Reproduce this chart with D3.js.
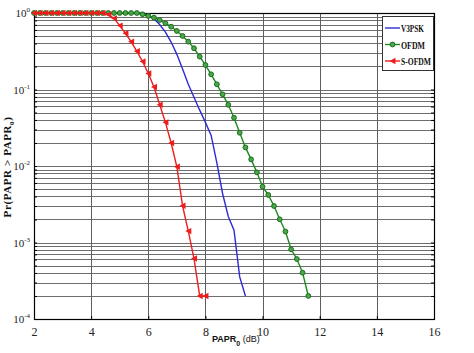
<!DOCTYPE html>
<html>
<head>
<meta charset="utf-8">
<script src="https://cdn.jsdelivr.net/npm/d3@7"></script>
<style>
  body { margin: 0; background: #fff; }
  svg { display: block; }
</style>
</head>
<body>
<svg id="chart" width="474" height="353"></svg>
<script>
// PAPR0 grid (dB), shared by all series
const papr = [2.0, 2.2, 2.4, 2.6, 2.8, 3.0, 3.2, 3.4, 3.6, 3.8, 4.0, 4.2, 4.4, 4.6, 4.8,
    5.0, 5.2, 5.4, 5.6, 5.8, 6.0, 6.2, 6.4, 6.6, 6.8, 7.0, 7.2, 7.4, 7.6, 7.8, 8.0,
    8.2, 8.4, 8.6, 8.8, 9.0, 9.2, 9.4, 9.6, 9.8, 10.0, 10.2, 10.4, 10.6, 10.8, 11.0,
    11.2, 11.4, 11.6];

// CCDF values, index i belongs to papr[i]
const v3psk = [1, 1, 1, 1, 1, 1, 1, 1, 1, 1, 1, 1, 1, 1, 1, 1, 1, 1, 1, 1,
    0.933, 0.832, 0.708, 0.562, 0.417, 0.288, 0.186, 0.117, 0.0794, 0.0537,
    0.0372, 0.0251, 0.011, 0.00437, 0.00219, 0.00145, 0.000355, 0.0002];

const ofdm = [1, 1, 1, 1, 1, 1, 1, 1, 1, 1, 1, 1, 1, 1, 1, 1, 1, 1, 1,
    0.962, 0.914, 0.869, 0.809, 0.733, 0.662, 0.582, 0.501, 0.422, 0.346, 0.269,
    0.209, 0.158, 0.117, 0.0865, 0.0631, 0.0427, 0.0272, 0.0175, 0.0122, 0.00826,
    0.00537, 0.00418, 0.0030, 0.00201, 0.00139, 0.000815, 0.000608, 0.000403, 0.0002];

const sofdm = [1, 1, 1, 1, 1, 1, 1, 1, 1, 1, 1, 1, 1,
    0.955, 0.851, 0.684, 0.543, 0.422, 0.316, 0.232, 0.162, 0.108, 0.0631,
    0.0372, 0.0200, 0.00977, 0.00302, 0.00141, 0.000617, 0.0002, 0.0002];

const xTicks = [2, 4, 6, 8, 10, 12, 14, 16];
const yDecades = [1, 0.1, 0.01, 0.001, 0.0001];
const yExponents = ["0", "-1", "-2", "-3", "-4"];
const legendNames = ["V3PSK", "OFDM", "S-OFDM"];

const size = {
    left: 34, right: 434, top: 13, bottom: 319
};

const svg = d3.select("#chart");

const x = d3.scaleLinear().domain([2, 16]).range([size.left, size.right]);
const y = d3.scaleLog().domain([1e-4, 1]).range([size.bottom, size.top]);

// horizontal grid at every log tick
const yGrid = y.ticks();
svg.append("g")
    .selectAll("line")
    .data(yGrid)
    .join("line")
    .attr("x1", size.left).attr("x2", size.right)
    .attr("y1", d => Math.round(y(d)) + 0.5).attr("y2", d => Math.round(y(d)) + 0.5)
    .attr("stroke", "#6e6e6e")
    .attr("stroke-width", 1);

// vertical grid
svg.append("g")
    .selectAll("line")
    .data(xTicks)
    .join("line")
    .attr("x1", d => Math.round(x(d)) + 0.5).attr("x2", d => Math.round(x(d)) + 0.5)
    .attr("y1", size.top).attr("y2", size.bottom)
    .attr("stroke", "#5e5e5e")
    .attr("stroke-width", 1);

// bottom axis with labels
const xAxis = svg.append("g")
    .attr("transform", `translate(0, ${size.bottom})`)
    .call(d3.axisBottom(x).tickValues(xTicks).tickSize(-3).tickPadding(8).tickFormat(d3.format("d")));
xAxis.select(".domain").remove();
xAxis.selectAll("line").attr("stroke", "#000");
xAxis.selectAll("text")
    .attr("font-family", "Liberation Serif, Times New Roman, serif")
    .attr("font-size", 12)
    .attr("fill", "#222");

// left axis ticks (minor + major), labels added by hand
const yAxis = svg.append("g")
    .attr("transform", `translate(${size.left}, 0)`)
    .call(d3.axisLeft(y).tickValues(yGrid).tickSize(-3).tickFormat(""));
yAxis.select(".domain").remove();
yAxis.selectAll("line").attr("stroke", "#000");

const rightAxis = svg.append("g")
    .attr("transform", `translate(${size.right}, 0)`)
    .call(d3.axisRight(y).tickValues(yGrid).tickSize(-3).tickFormat(""));
rightAxis.select(".domain").remove();
rightAxis.selectAll("line").attr("stroke", "#000");

// decade labels 10^n
const yLabels = svg.append("g")
    .attr("font-family", "Liberation Serif, Times New Roman, serif")
    .attr("fill", "#222");
yDecades.forEach((d, i) => {
    const t = yLabels.append("text")
        .attr("x", size.left - 4)
        .attr("y", y(d) + 4)
        .attr("text-anchor", "end")
        .attr("font-size", 11);
    t.append("tspan").text("10");
    t.append("tspan").attr("dy", -5).attr("font-size", 7).text(yExponents[i]);
});

// frame
svg.append("rect")
    .attr("x", size.left + 0.5).attr("y", size.top + 0.5)
    .attr("width", size.right - size.left).attr("height", size.bottom - size.top)
    .attr("fill", "none")
    .attr("stroke", "#000")
    .attr("stroke-width", 1.2);

const line = d3.line()
    .x((d, i) => x(papr[i]))
    .y(d => y(d));

// V3PSK
svg.append("path")
    .datum(v3psk)
    .attr("d", line)
    .attr("fill", "none")
    .attr("stroke", "#2b2bd6")
    .attr("stroke-width", 1.4);

// OFDM
svg.append("path")
    .datum(ofdm)
    .attr("d", line)
    .attr("fill", "none")
    .attr("stroke", "#1e8a1e")
    .attr("stroke-width", 1.4);
svg.append("g")
    .selectAll("circle")
    .data(ofdm)
    .join("circle")
    .attr("cx", (d, i) => x(papr[i]))
    .attr("cy", d => y(d))
    .attr("r", 2.4)
    .attr("fill", "#4aa64a")
    .attr("stroke", "#1a6e1a")
    .attr("stroke-width", 1);

// S-OFDM
svg.append("path")
    .datum(sofdm)
    .attr("d", line)
    .attr("fill", "none")
    .attr("stroke", "#ee1c1c")
    .attr("stroke-width", 1.4);
svg.append("g")
    .selectAll("path")
    .data(sofdm)
    .join("path")
    .attr("transform", (d, i) => `translate(${x(papr[i])}, ${y(d)})`)
    .attr("d", "M-3,0L3,-3.2L3,3.2Z")
    .attr("fill", "#ee1c1c");

// legend
const legend = svg.append("g");
legend.append("rect")
    .attr("x", 382.5).attr("y", 16.5)
    .attr("width", 51).attr("height", 54)
    .attr("fill", "#fff")
    .attr("stroke", "#333")
    .attr("stroke-width", 1);
const legendColors = ["#2b2bd6", "#1e8a1e", "#ee1c1c"];
const legendWidths = [23, 24, 30];
legendNames.forEach((name, i) => {
    const ly = 28 + i * 16.5;
    legend.append("line")
        .attr("x1", 385).attr("x2", 400)
        .attr("y1", ly).attr("y2", ly)
        .attr("stroke", legendColors[i])
        .attr("stroke-width", 1.4);
    if (i === 1) {
        legend.append("circle").attr("cx", 392.5).attr("cy", ly).attr("r", 2.4)
            .attr("fill", "#4aa64a").attr("stroke", "#1a6e1a");
    }
    if (i === 2) {
        legend.append("path").attr("transform", `translate(392.5, ${ly})`)
            .attr("d", "M-3,0L3,-3.2L3,3.2Z").attr("fill", "#ee1c1c");
    }
    legend.append("text")
        .attr("x", 401).attr("y", ly + 4)
        .attr("font-family", "Liberation Serif, Times New Roman, serif")
        .attr("font-weight", "bold")
        .attr("font-size", 11)
        .attr("textLength", legendWidths[i])
        .attr("lengthAdjust", "spacingAndGlyphs")
        .attr("fill", "#111")
        .text(name);
});

// x axis label
const xl = svg.append("text")
    .attr("x", 212).attr("y", 342)
    .attr("text-anchor", "start")
    .attr("font-family", "Liberation Sans, Arial, sans-serif")
    .attr("font-weight", "bold")
    .attr("font-size", 9)
    .attr("fill", "#111");
xl.append("tspan").text("PAPR");
xl.append("tspan").attr("dy", 4).attr("font-size", 7).text("0");
xl.append("tspan").attr("dy", -4).attr("font-weight", "normal").text(" (dB)");

// y axis label
const yl = svg.append("text")
    .attr("transform", "translate(11, 167) rotate(-90)")
    .attr("text-anchor", "middle")
    .attr("font-family", "Liberation Serif, Times New Roman, serif")
    .attr("font-weight", "bold")
    .attr("font-size", 11)
    .attr("letter-spacing", 0.6)
    .attr("fill", "#111");
yl.append("tspan").text("Pr(PAPR  >  PAPR");
yl.append("tspan").attr("dy", 3).attr("font-size", 7).text("0");
yl.append("tspan").attr("dy", -3).text(")");
</script>
</body>
</html>
